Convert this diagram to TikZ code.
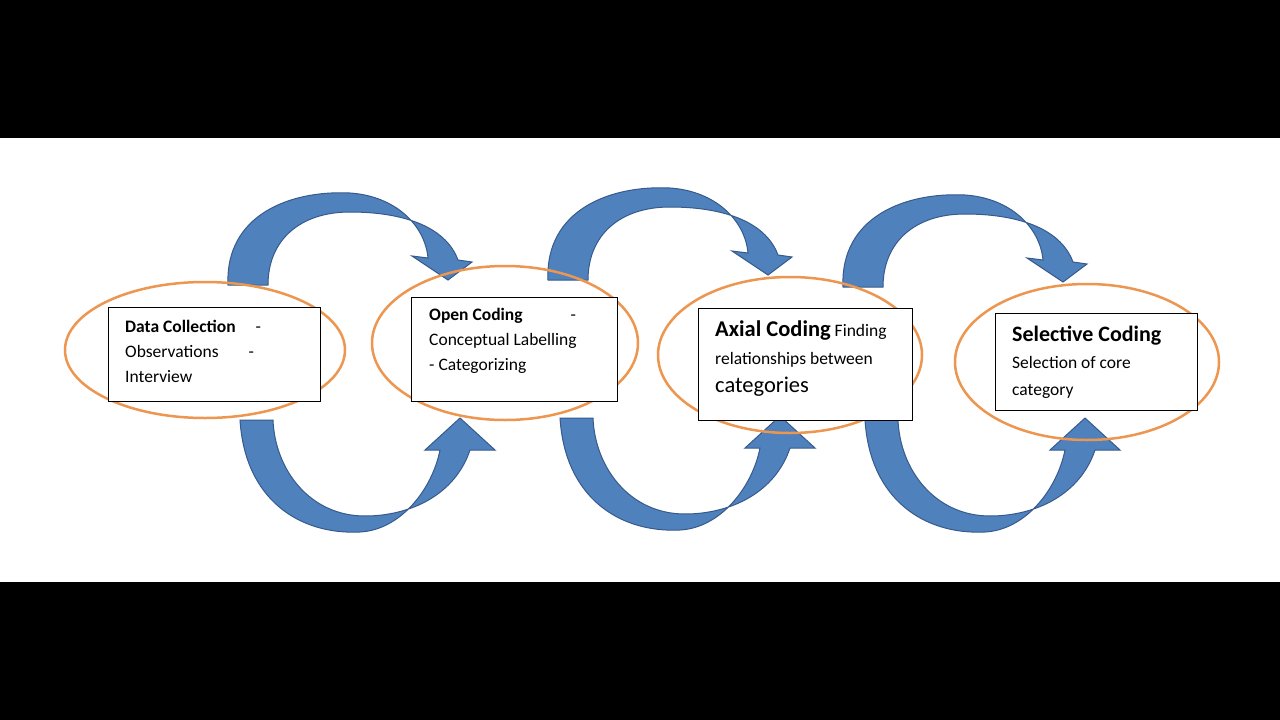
\documentclass[tikz,border=0pt]{standalone}
\usepackage{fontspec}
\setmainfont{Carlito}
\definecolor{arrfill}{RGB}{79,129,189}
\definecolor{arrdraw}{RGB}{55,90,140}
\definecolor{ellc}{RGB}{237,150,80}
\begin{document}
\begin{tikzpicture}[x=1pt,y=-1pt,
  arr/.style={fill=arrfill,draw=arrdraw,line width=1pt},
  ell/.style={draw=ellc,line width=2.5pt},
  box/.style={draw=black,fill=white,line width=1pt},
  txt/.style={anchor=north west,align=left,font=\fontsize{17.5}{25}\selectfont,inner sep=0pt}]
\fill[black] (0,0) rectangle (1280,720);
\fill[white] (0,138) rectangle (1280,582);
\useasboundingbox (0,0) rectangle (1280,720);
\foreach \dx/\dy in {0/0,320/-5,615/2}{
\begin{scope}[shift={(\dx,\dy)}]
\path[arr] (228,285) .. controls (225,215) and (290,190) .. (350,193) .. controls (395,196) and (425,225) .. (428,258) -- (412,256) -- (448,280) -- (472,262) -- (458,260) .. controls (445,225) and (400,212) .. (350,212) .. controls (300,212) and (268,240) .. (268,285) -- cycle;
\end{scope}}
\foreach \dx/\dy in {0/0,320/-2,625/0}{
\begin{scope}[shift={(\dx,\dy)}]
\path[arr] (240,420) .. controls (245,500) and (300,535) .. (360,532) .. controls (400,530) and (432,490) .. (440,450) -- (425,450) -- (460,418) -- (495,450) -- (470,450) .. controls (455,495) and (410,516) .. (365,516) .. controls (310,516) and (275,470) .. (273,420) -- cycle;
\end{scope}}
\draw[ell] (205,350) ellipse [x radius=140,y radius=68];
\draw[ell] (505,343) ellipse [x radius=133,y radius=77];
\draw[ell] (790,355) ellipse [x radius=132,y radius=78];
\draw[ell] (1087,362) ellipse [x radius=132,y radius=78];
\node[box,minimum width=212,minimum height=94,anchor=north west] (b1) at (108,307) {};
\node[box,minimum width=206,minimum height=104,anchor=north west] (b2) at (411,297) {};
\node[box,minimum width=214,minimum height=112,anchor=north west] (b3) at (698,308) {};
\node[box,minimum width=202,minimum height=97,anchor=north west] (b4) at (995,313) {};
\node[txt] (t1) at (125,320) {\textbf{Data Collection}\hspace{20pt}-\\Observations\hspace{30pt}-\\Interview};
\node[txt] (t2) at (429,308) {\textbf{Open Coding}\hspace{48pt}-\\Conceptual Labelling\\- Categorizing};
\node[txt,font=\fontsize{17.5}{28}\selectfont] (t3) at (715,321) {{\fontsize{22.5}{23}\selectfont\textbf{Axial Coding}} Finding\\relationships between\\{\fontsize{22.5}{23}\selectfont categories}};
\node[txt,font=\fontsize{17.5}{27}\selectfont] (t4) at (1012,326) {{\fontsize{22}{23}\selectfont\textbf{Selective Coding}}\\Selection of core\\category};
\end{tikzpicture}
\end{document}
